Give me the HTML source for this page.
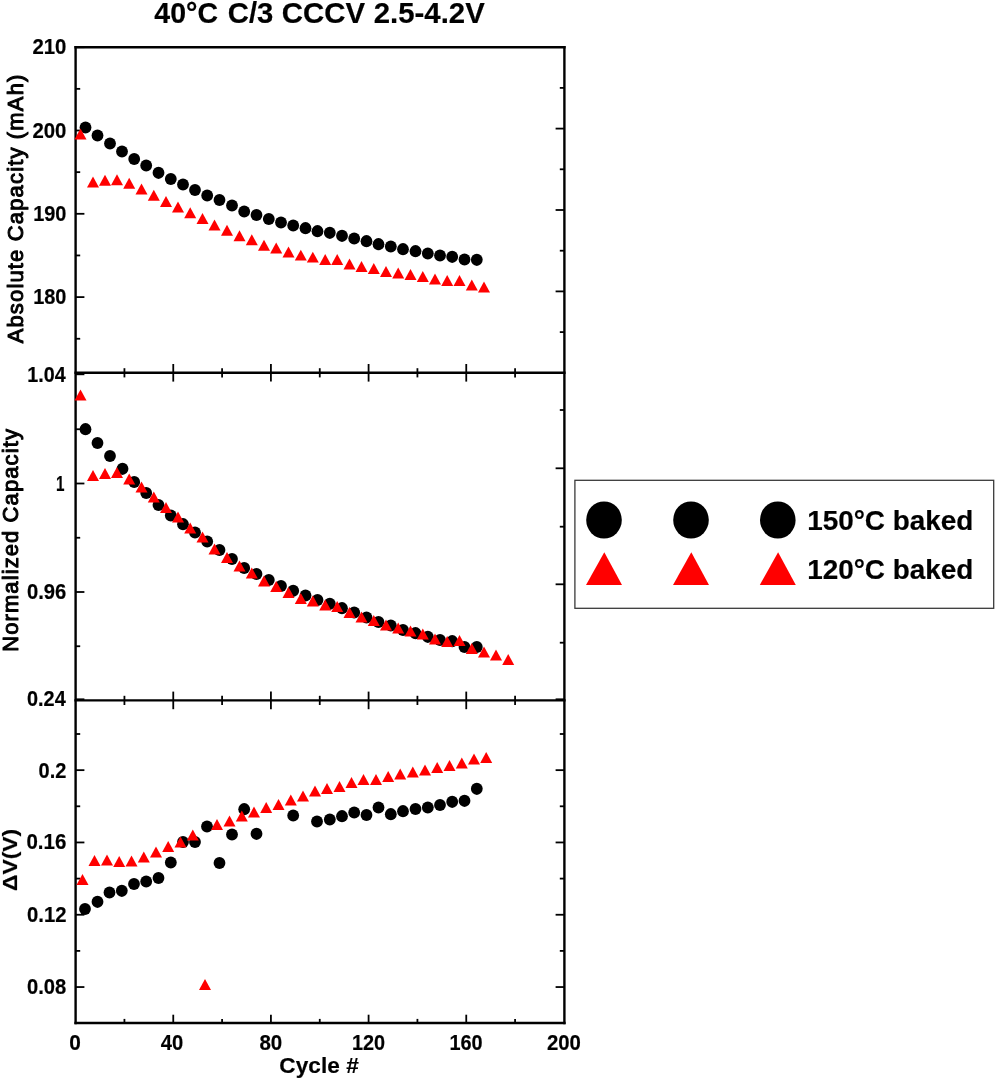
<!DOCTYPE html>
<html lang="en">
<head>
<meta charset="utf-8">
<title>40°C C/3 CCCV 2.5-4.2V</title>
<style>
html,body{margin:0;padding:0;background:#fff;}
body{width:996px;height:1080px;overflow:hidden;}
svg{display:block;}
text{white-space:pre;}
</style>
</head>
<body>
<svg width="996" height="1080" viewBox="0 0 996 1080">
<defs><filter id="soft" x="0" y="0" width="996" height="1080" filterUnits="userSpaceOnUse"><feGaussianBlur stdDeviation="0.55"/></filter></defs>
<rect width="996" height="1080" fill="#fff"/>
<g filter="url(#soft)">
<g stroke="#000" stroke-width="2.4" fill="none" stroke-linecap="square">
<line x1="75.6" y1="47.2" x2="75.6" y2="1023.0"/>
<line x1="564.4" y1="47.2" x2="564.4" y2="1023.0"/>
<line x1="75.6" y1="47.2" x2="564.4" y2="47.2"/>
<line x1="75.6" y1="372.8" x2="564.4" y2="372.8"/>
<line x1="75.6" y1="700.4" x2="564.4" y2="700.4"/>
<line x1="75.6" y1="1023.0" x2="564.4" y2="1023.0"/>
</g>
<g stroke="#000" stroke-width="1.8" fill="none">
<line x1="75.6" y1="88.85" x2="80.20" y2="88.85"/>
<line x1="75.6" y1="130.50" x2="84.40" y2="130.50"/>
<line x1="75.6" y1="172.15" x2="80.20" y2="172.15"/>
<line x1="75.6" y1="213.80" x2="84.40" y2="213.80"/>
<line x1="75.6" y1="255.45" x2="80.20" y2="255.45"/>
<line x1="75.6" y1="297.10" x2="84.40" y2="297.10"/>
<line x1="75.6" y1="338.75" x2="80.20" y2="338.75"/>
<line x1="75.6" y1="47.20" x2="84.40" y2="47.20"/>
<line x1="75.6" y1="429.25" x2="80.20" y2="429.25"/>
<line x1="75.6" y1="483.50" x2="84.40" y2="483.50"/>
<line x1="75.6" y1="537.75" x2="80.20" y2="537.75"/>
<line x1="75.6" y1="592.00" x2="84.40" y2="592.00"/>
<line x1="75.6" y1="646.25" x2="80.20" y2="646.25"/>
<line x1="75.6" y1="374.30" x2="84.40" y2="374.30"/>
<line x1="75.6" y1="734.00" x2="80.20" y2="734.00"/>
<line x1="75.6" y1="770.15" x2="84.40" y2="770.15"/>
<line x1="75.6" y1="806.30" x2="80.20" y2="806.30"/>
<line x1="75.6" y1="842.45" x2="84.40" y2="842.45"/>
<line x1="75.6" y1="878.60" x2="80.20" y2="878.60"/>
<line x1="75.6" y1="914.75" x2="84.40" y2="914.75"/>
<line x1="75.6" y1="950.90" x2="80.20" y2="950.90"/>
<line x1="75.6" y1="987.05" x2="84.40" y2="987.05"/>
<line x1="75.6" y1="699.30" x2="84.40" y2="699.30"/>
<line x1="564.4" y1="87.90" x2="559.80" y2="87.90"/>
<line x1="564.4" y1="128.60" x2="555.60" y2="128.60"/>
<line x1="564.4" y1="169.30" x2="559.80" y2="169.30"/>
<line x1="564.4" y1="210.00" x2="555.60" y2="210.00"/>
<line x1="564.4" y1="250.70" x2="559.80" y2="250.70"/>
<line x1="564.4" y1="291.40" x2="555.60" y2="291.40"/>
<line x1="564.4" y1="332.10" x2="559.80" y2="332.10"/>
<line x1="564.4" y1="410.00" x2="559.80" y2="410.00"/>
<line x1="564.4" y1="468.30" x2="555.60" y2="468.30"/>
<line x1="564.4" y1="526.70" x2="559.80" y2="526.70"/>
<line x1="564.4" y1="584.30" x2="555.60" y2="584.30"/>
<line x1="564.4" y1="642.70" x2="559.80" y2="642.70"/>
<line x1="564.4" y1="699.30" x2="555.60" y2="699.30"/>
<line x1="564.4" y1="734.00" x2="559.80" y2="734.00"/>
<line x1="564.4" y1="770.15" x2="555.60" y2="770.15"/>
<line x1="564.4" y1="806.30" x2="559.80" y2="806.30"/>
<line x1="564.4" y1="842.45" x2="555.60" y2="842.45"/>
<line x1="564.4" y1="878.60" x2="559.80" y2="878.60"/>
<line x1="564.4" y1="914.75" x2="555.60" y2="914.75"/>
<line x1="564.4" y1="950.90" x2="559.80" y2="950.90"/>
<line x1="564.4" y1="987.05" x2="555.60" y2="987.05"/>
<line x1="124.43" y1="368.20" x2="124.43" y2="377.40"/>
<line x1="124.43" y1="695.80" x2="124.43" y2="705.00"/>
<line x1="124.43" y1="1018.90" x2="124.43" y2="1023.00"/>
<line x1="173.26" y1="364.00" x2="173.26" y2="381.60"/>
<line x1="173.26" y1="691.60" x2="173.26" y2="709.20"/>
<line x1="173.26" y1="1014.70" x2="173.26" y2="1023.00"/>
<line x1="222.09" y1="368.20" x2="222.09" y2="377.40"/>
<line x1="222.09" y1="695.80" x2="222.09" y2="705.00"/>
<line x1="222.09" y1="1018.90" x2="222.09" y2="1023.00"/>
<line x1="270.92" y1="364.00" x2="270.92" y2="381.60"/>
<line x1="270.92" y1="691.60" x2="270.92" y2="709.20"/>
<line x1="270.92" y1="1014.70" x2="270.92" y2="1023.00"/>
<line x1="319.76" y1="368.20" x2="319.76" y2="377.40"/>
<line x1="319.76" y1="695.80" x2="319.76" y2="705.00"/>
<line x1="319.76" y1="1018.90" x2="319.76" y2="1023.00"/>
<line x1="368.59" y1="364.00" x2="368.59" y2="381.60"/>
<line x1="368.59" y1="691.60" x2="368.59" y2="709.20"/>
<line x1="368.59" y1="1014.70" x2="368.59" y2="1023.00"/>
<line x1="417.42" y1="368.20" x2="417.42" y2="377.40"/>
<line x1="417.42" y1="695.80" x2="417.42" y2="705.00"/>
<line x1="417.42" y1="1018.90" x2="417.42" y2="1023.00"/>
<line x1="466.25" y1="364.00" x2="466.25" y2="381.60"/>
<line x1="466.25" y1="691.60" x2="466.25" y2="709.20"/>
<line x1="466.25" y1="1014.70" x2="466.25" y2="1023.00"/>
<line x1="515.08" y1="368.20" x2="515.08" y2="377.40"/>
<line x1="515.08" y1="695.80" x2="515.08" y2="705.00"/>
<line x1="515.08" y1="1018.90" x2="515.08" y2="1023.00"/>
</g>
<g fill="#000"><ellipse cx="85.5" cy="127.5" rx="5.9" ry="6.1"/><ellipse cx="97.5" cy="135.5" rx="5.9" ry="6.1"/><ellipse cx="110.0" cy="143.5" rx="5.9" ry="6.1"/><ellipse cx="122.0" cy="151.5" rx="5.9" ry="6.1"/><ellipse cx="134.2" cy="159.0" rx="5.9" ry="6.1"/><ellipse cx="146.2" cy="165.5" rx="5.9" ry="6.1"/><ellipse cx="158.5" cy="172.8" rx="5.9" ry="6.1"/><ellipse cx="170.8" cy="179.0" rx="5.9" ry="6.1"/><ellipse cx="183.0" cy="184.5" rx="5.9" ry="6.1"/><ellipse cx="195.0" cy="190.0" rx="5.9" ry="6.1"/><ellipse cx="207.2" cy="195.5" rx="5.9" ry="6.1"/><ellipse cx="219.5" cy="200.0" rx="5.9" ry="6.1"/><ellipse cx="232.0" cy="205.5" rx="5.9" ry="6.1"/><ellipse cx="244.2" cy="211.5" rx="5.9" ry="6.1"/><ellipse cx="256.5" cy="215.0" rx="5.9" ry="6.1"/><ellipse cx="268.8" cy="219.0" rx="5.9" ry="6.1"/><ellipse cx="281.0" cy="222.5" rx="5.9" ry="6.1"/><ellipse cx="293.2" cy="225.5" rx="5.9" ry="6.1"/><ellipse cx="305.5" cy="228.2" rx="5.9" ry="6.1"/><ellipse cx="317.5" cy="231.2" rx="5.9" ry="6.1"/><ellipse cx="329.8" cy="232.8" rx="5.9" ry="6.1"/><ellipse cx="342.0" cy="235.8" rx="5.9" ry="6.1"/><ellipse cx="354.2" cy="238.5" rx="5.9" ry="6.1"/><ellipse cx="366.5" cy="241.2" rx="5.9" ry="6.1"/><ellipse cx="378.5" cy="244.2" rx="5.9" ry="6.1"/><ellipse cx="390.8" cy="246.5" rx="5.9" ry="6.1"/><ellipse cx="403.0" cy="249.2" rx="5.9" ry="6.1"/><ellipse cx="415.5" cy="251.2" rx="5.9" ry="6.1"/><ellipse cx="427.8" cy="253.5" rx="5.9" ry="6.1"/><ellipse cx="440.0" cy="255.5" rx="5.9" ry="6.1"/><ellipse cx="452.2" cy="256.8" rx="5.9" ry="6.1"/><ellipse cx="464.5" cy="259.5" rx="5.9" ry="6.1"/><ellipse cx="476.8" cy="259.8" rx="5.9" ry="6.1"/></g>
<g fill="#ff0000"><path d="M80.5 128.4L86.5 139.4L74.5 139.4Z"/><path d="M93.0 176.4L99.0 187.4L87.0 187.4Z"/><path d="M105.0 174.7L111.0 185.7L99.0 185.7Z"/><path d="M117.0 174.2L123.0 185.2L111.0 185.2Z"/><path d="M129.2 177.7L135.2 188.7L123.2 188.7Z"/><path d="M141.5 183.4L147.5 194.4L135.5 194.4Z"/><path d="M153.8 189.7L159.8 200.7L147.8 200.7Z"/><path d="M166.0 195.9L172.0 206.9L160.0 206.9Z"/><path d="M178.0 201.4L184.0 212.4L172.0 212.4Z"/><path d="M190.2 207.2L196.2 218.2L184.2 218.2Z"/><path d="M202.5 212.9L208.5 223.9L196.5 223.9Z"/><path d="M214.5 219.4L220.5 230.4L208.5 230.4Z"/><path d="M227.0 224.7L233.0 235.7L221.0 235.7Z"/><path d="M239.5 230.2L245.5 241.2L233.5 241.2Z"/><path d="M251.8 234.2L257.8 245.2L245.8 245.2Z"/><path d="M264.0 239.7L270.0 250.7L258.0 250.7Z"/><path d="M276.2 242.4L282.2 253.4L270.2 253.4Z"/><path d="M288.5 246.4L294.5 257.4L282.5 257.4Z"/><path d="M300.8 249.7L306.8 260.6L294.8 260.6Z"/><path d="M312.8 251.7L318.8 262.6L306.8 262.6Z"/><path d="M325.2 253.9L331.2 264.9L319.2 264.9Z"/><path d="M337.2 253.9L343.2 264.9L331.2 264.9Z"/><path d="M349.5 258.4L355.5 269.4L343.5 269.4Z"/><path d="M361.5 260.9L367.5 271.9L355.5 271.9Z"/><path d="M373.8 262.9L379.8 273.9L367.8 273.9Z"/><path d="M386.0 265.9L392.0 276.9L380.0 276.9Z"/><path d="M398.2 267.4L404.2 278.4L392.2 278.4Z"/><path d="M410.5 269.1L416.5 280.1L404.5 280.1Z"/><path d="M422.8 270.9L428.8 281.9L416.8 281.9Z"/><path d="M435.0 273.4L441.0 284.4L429.0 284.4Z"/><path d="M447.2 275.1L453.2 286.1L441.2 286.1Z"/><path d="M459.5 274.9L465.5 285.9L453.5 285.9Z"/><path d="M471.8 279.6L477.8 290.6L465.8 290.6Z"/><path d="M484.0 281.4L490.0 292.4L478.0 292.4Z"/></g>
<g fill="#000"><ellipse cx="85.5" cy="429.2" rx="5.9" ry="6.1"/><ellipse cx="97.5" cy="443.0" rx="5.9" ry="6.1"/><ellipse cx="110.0" cy="456.0" rx="5.9" ry="6.1"/><ellipse cx="122.5" cy="468.8" rx="5.9" ry="6.1"/><ellipse cx="134.2" cy="482.0" rx="5.9" ry="6.1"/><ellipse cx="146.2" cy="493.0" rx="5.9" ry="6.1"/><ellipse cx="158.5" cy="505.0" rx="5.9" ry="6.1"/><ellipse cx="170.8" cy="515.5" rx="5.9" ry="6.1"/><ellipse cx="183.0" cy="524.2" rx="5.9" ry="6.1"/><ellipse cx="195.0" cy="532.5" rx="5.9" ry="6.1"/><ellipse cx="207.2" cy="541.5" rx="5.9" ry="6.1"/><ellipse cx="219.5" cy="550.0" rx="5.9" ry="6.1"/><ellipse cx="232.0" cy="559.0" rx="5.9" ry="6.1"/><ellipse cx="244.2" cy="568.0" rx="5.9" ry="6.1"/><ellipse cx="256.5" cy="574.0" rx="5.9" ry="6.1"/><ellipse cx="268.8" cy="580.0" rx="5.9" ry="6.1"/><ellipse cx="281.0" cy="586.0" rx="5.9" ry="6.1"/><ellipse cx="293.2" cy="590.8" rx="5.9" ry="6.1"/><ellipse cx="305.5" cy="595.5" rx="5.9" ry="6.1"/><ellipse cx="317.5" cy="600.0" rx="5.9" ry="6.1"/><ellipse cx="329.8" cy="603.8" rx="5.9" ry="6.1"/><ellipse cx="342.0" cy="608.2" rx="5.9" ry="6.1"/><ellipse cx="354.2" cy="612.5" rx="5.9" ry="6.1"/><ellipse cx="366.5" cy="617.5" rx="5.9" ry="6.1"/><ellipse cx="378.5" cy="622.0" rx="5.9" ry="6.1"/><ellipse cx="390.8" cy="625.5" rx="5.9" ry="6.1"/><ellipse cx="403.0" cy="630.0" rx="5.9" ry="6.1"/><ellipse cx="415.5" cy="633.2" rx="5.9" ry="6.1"/><ellipse cx="427.8" cy="636.8" rx="5.9" ry="6.1"/><ellipse cx="440.0" cy="640.0" rx="5.9" ry="6.1"/><ellipse cx="452.2" cy="641.2" rx="5.9" ry="6.1"/><ellipse cx="464.5" cy="647.0" rx="5.9" ry="6.1"/><ellipse cx="476.8" cy="647.0" rx="5.9" ry="6.1"/></g>
<g fill="#ff0000"><path d="M80.5 389.6L86.5 400.6L74.5 400.6Z"/><path d="M93.0 470.1L99.0 481.1L87.0 481.1Z"/><path d="M105.0 467.9L111.0 478.9L99.0 478.9Z"/><path d="M117.0 466.9L123.0 477.9L111.0 477.9Z"/><path d="M129.2 473.4L135.2 484.4L123.2 484.4Z"/><path d="M141.5 481.6L147.5 492.6L135.5 492.6Z"/><path d="M153.8 491.6L159.8 502.6L147.8 502.6Z"/><path d="M166.0 502.1L172.0 513.1L160.0 513.1Z"/><path d="M178.0 511.6L184.0 522.6L172.0 522.6Z"/><path d="M190.2 522.4L196.2 533.4L184.2 533.4Z"/><path d="M202.5 531.6L208.5 542.6L196.5 542.6Z"/><path d="M214.5 543.4L220.5 554.4L208.5 554.4Z"/><path d="M227.0 551.9L233.0 562.9L221.0 562.9Z"/><path d="M239.5 560.4L245.5 571.4L233.5 571.4Z"/><path d="M251.8 567.4L257.8 578.4L245.8 578.4Z"/><path d="M264.0 575.4L270.0 586.4L258.0 586.4Z"/><path d="M276.2 580.9L282.2 591.9L270.2 591.9Z"/><path d="M288.5 587.1L294.5 598.1L282.5 598.1Z"/><path d="M300.8 592.9L306.8 603.9L294.8 603.9Z"/><path d="M312.8 595.4L318.8 606.4L306.8 606.4Z"/><path d="M325.2 599.6L331.2 610.6L319.2 610.6Z"/><path d="M337.2 600.9L343.2 611.9L331.2 611.9Z"/><path d="M349.5 607.1L355.5 618.1L343.5 618.1Z"/><path d="M361.5 611.6L367.5 622.6L355.5 622.6Z"/><path d="M373.8 615.1L379.8 626.1L367.8 626.1Z"/><path d="M386.0 619.6L392.0 630.6L380.0 630.6Z"/><path d="M398.2 622.6L404.2 633.6L392.2 633.6Z"/><path d="M410.5 625.4L416.5 636.4L404.5 636.4Z"/><path d="M422.8 628.4L428.8 639.4L416.8 639.4Z"/><path d="M435.0 633.4L441.0 644.4L429.0 644.4Z"/><path d="M447.2 635.9L453.2 646.9L441.2 646.9Z"/><path d="M459.5 634.9L465.5 645.9L453.5 645.9Z"/><path d="M471.8 642.9L477.8 653.9L465.8 653.9Z"/><path d="M484.0 646.6L490.0 657.6L478.0 657.6Z"/><path d="M496.0 649.6L502.0 660.6L490.0 660.6Z"/><path d="M508.2 654.1L514.2 665.1L502.2 665.1Z"/></g>
<g fill="#000"><ellipse cx="85.0" cy="909.0" rx="5.9" ry="6.1"/><ellipse cx="97.5" cy="901.8" rx="5.9" ry="6.1"/><ellipse cx="109.5" cy="892.5" rx="5.9" ry="6.1"/><ellipse cx="121.8" cy="890.8" rx="5.9" ry="6.1"/><ellipse cx="134.0" cy="884.0" rx="5.9" ry="6.1"/><ellipse cx="146.2" cy="881.5" rx="5.9" ry="6.1"/><ellipse cx="158.5" cy="878.0" rx="5.9" ry="6.1"/><ellipse cx="170.8" cy="862.5" rx="5.9" ry="6.1"/><ellipse cx="183.0" cy="842.0" rx="5.9" ry="6.1"/><ellipse cx="195.0" cy="842.0" rx="5.9" ry="6.1"/><ellipse cx="207.0" cy="826.5" rx="5.9" ry="6.1"/><ellipse cx="219.5" cy="863.0" rx="5.9" ry="6.1"/><ellipse cx="232.0" cy="834.5" rx="5.9" ry="6.1"/><ellipse cx="244.2" cy="809.2" rx="5.9" ry="6.1"/><ellipse cx="256.5" cy="833.8" rx="5.9" ry="6.1"/><ellipse cx="293.2" cy="815.5" rx="5.9" ry="6.1"/><ellipse cx="317.0" cy="821.5" rx="5.9" ry="6.1"/><ellipse cx="329.8" cy="819.5" rx="5.9" ry="6.1"/><ellipse cx="342.0" cy="816.2" rx="5.9" ry="6.1"/><ellipse cx="354.2" cy="812.5" rx="5.9" ry="6.1"/><ellipse cx="366.5" cy="815.0" rx="5.9" ry="6.1"/><ellipse cx="378.5" cy="807.5" rx="5.9" ry="6.1"/><ellipse cx="390.8" cy="814.2" rx="5.9" ry="6.1"/><ellipse cx="403.0" cy="811.2" rx="5.9" ry="6.1"/><ellipse cx="415.5" cy="809.0" rx="5.9" ry="6.1"/><ellipse cx="427.8" cy="807.5" rx="5.9" ry="6.1"/><ellipse cx="440.0" cy="805.0" rx="5.9" ry="6.1"/><ellipse cx="452.2" cy="801.8" rx="5.9" ry="6.1"/><ellipse cx="464.5" cy="800.8" rx="5.9" ry="6.1"/><ellipse cx="476.8" cy="788.8" rx="5.9" ry="6.1"/></g>
<g fill="#ff0000"><path d="M82.5 873.9L88.5 884.9L76.5 884.9Z"/><path d="M94.5 855.1L100.5 866.1L88.5 866.1Z"/><path d="M107.0 854.6L113.0 865.6L101.0 865.6Z"/><path d="M119.2 856.1L125.2 867.1L113.2 867.1Z"/><path d="M131.5 855.4L137.5 866.4L125.5 866.4Z"/><path d="M143.8 851.4L149.8 862.4L137.8 862.4Z"/><path d="M156.0 846.4L162.0 857.4L150.0 857.4Z"/><path d="M168.2 840.9L174.2 851.9L162.2 851.9Z"/><path d="M180.5 836.4L186.5 847.4L174.5 847.4Z"/><path d="M192.8 829.6L198.8 840.6L186.8 840.6Z"/><path d="M205.0 978.9L211.0 989.9L199.0 989.9Z"/><path d="M217.0 818.9L223.0 829.9L211.0 829.9Z"/><path d="M229.5 815.4L235.5 826.4L223.5 826.4Z"/><path d="M241.8 810.4L247.8 821.4L235.8 821.4Z"/><path d="M254.0 806.6L260.0 817.6L248.0 817.6Z"/><path d="M266.2 802.1L272.2 813.1L260.2 813.1Z"/><path d="M278.5 798.9L284.5 809.9L272.5 809.9Z"/><path d="M290.8 794.6L296.8 805.6L284.8 805.6Z"/><path d="M303.0 790.4L309.0 801.4L297.0 801.4Z"/><path d="M315.0 785.4L321.0 796.4L309.0 796.4Z"/><path d="M327.0 782.9L333.0 793.9L321.0 793.9Z"/><path d="M339.5 780.9L345.5 791.9L333.5 791.9Z"/><path d="M351.5 777.1L357.5 788.1L345.5 788.1Z"/><path d="M363.5 773.9L369.5 784.9L357.5 784.9Z"/><path d="M376.0 773.9L382.0 784.9L370.0 784.9Z"/><path d="M388.2 770.9L394.2 781.9L382.2 781.9Z"/><path d="M400.2 768.4L406.2 779.4L394.2 779.4Z"/><path d="M412.8 766.6L418.8 777.6L406.8 777.6Z"/><path d="M425.0 764.4L431.0 775.4L419.0 775.4Z"/><path d="M437.2 761.9L443.2 772.9L431.2 772.9Z"/><path d="M449.5 760.1L455.5 771.1L443.5 771.1Z"/><path d="M461.8 757.4L467.8 768.4L455.8 768.4Z"/><path d="M474.0 753.4L480.0 764.4L468.0 764.4Z"/><path d="M486.2 751.9L492.2 762.9L480.2 762.9Z"/></g>
<g font-family="'Liberation Sans', Arial, Helvetica, sans-serif" font-weight="bold" fill="#000" stroke="#000" stroke-width="0.2" stroke-linejoin="round">
<text y="22.9" font-size="29.5"><tspan x="154.37" textLength="63.70" lengthAdjust="spacingAndGlyphs">40°C</tspan> <tspan x="227.83" textLength="45.53" lengthAdjust="spacingAndGlyphs">C/3</tspan> <tspan x="281.82" textLength="83.35" lengthAdjust="spacingAndGlyphs">CCCV</tspan> <tspan x="373.77" textLength="110.96" lengthAdjust="spacingAndGlyphs">2.5-4.2V</tspan></text>
<text x="32.49" y="54.10" font-size="21.5" textLength="33.95" lengthAdjust="spacingAndGlyphs">210</text>
<text x="32.49" y="137.50" font-size="21.5" textLength="33.95" lengthAdjust="spacingAndGlyphs">200</text>
<text x="33.15" y="220.90" font-size="21.5" textLength="33.26" lengthAdjust="spacingAndGlyphs">190</text>
<text x="33.15" y="304.40" font-size="21.5" textLength="33.26" lengthAdjust="spacingAndGlyphs">180</text>
<text x="27.37" y="381.50" font-size="21.5" textLength="38.36" lengthAdjust="spacingAndGlyphs">1.04</text>
<text x="55.95" y="490.70" font-size="21.5" textLength="8.49" lengthAdjust="spacingAndGlyphs">1</text>
<text x="26.99" y="599.20" font-size="21.5" textLength="39.34" lengthAdjust="spacingAndGlyphs">0.96</text>
<text x="27.00" y="705.90" font-size="21.5" textLength="38.72" lengthAdjust="spacingAndGlyphs">0.24</text>
<text x="38.60" y="777.60" font-size="21.5" textLength="27.80" lengthAdjust="spacingAndGlyphs">0.2</text>
<text x="26.48" y="849.20" font-size="21.5" textLength="39.86" lengthAdjust="spacingAndGlyphs">0.16</text>
<text x="26.99" y="921.90" font-size="21.5" textLength="39.45" lengthAdjust="spacingAndGlyphs">0.12</text>
<text x="26.99" y="994.20" font-size="21.5" textLength="39.24" lengthAdjust="spacingAndGlyphs">0.08</text>
<text x="69.37" y="1049.8" font-size="22.6" textLength="11.59" lengthAdjust="spacingAndGlyphs">0</text>
<text x="160.70" y="1049.8" font-size="22.6" textLength="22.46" lengthAdjust="spacingAndGlyphs">40</text>
<text x="259.43" y="1049.8" font-size="22.6" textLength="22.84" lengthAdjust="spacingAndGlyphs">80</text>
<text x="351.96" y="1049.8" font-size="22.6" textLength="33.16" lengthAdjust="spacingAndGlyphs">120</text>
<text x="449.46" y="1049.8" font-size="22.6" textLength="33.16" lengthAdjust="spacingAndGlyphs">160</text>
<text x="546.99" y="1049.8" font-size="22.6" textLength="33.95" lengthAdjust="spacingAndGlyphs">200</text>
<text x="279.30" y="1073.4" font-size="22.6" letter-spacing="0.048">Cycle #</text>
<text transform="translate(22.8 0) rotate(-90)" x="-343.36" y="0" font-size="22" letter-spacing="1.155" font-weight="normal" stroke-width="1.0">Absolute Capacity (mAh)</text>
<text transform="translate(17.8 0) rotate(-90)" x="-651.82" y="0" font-size="22" letter-spacing="1.096" font-weight="normal" stroke-width="1.0">Normalized Capacity</text>
<text transform="translate(17.4 0) rotate(-90)" x="-890.91" y="0" font-size="20.5" textLength="62.08" lengthAdjust="spacingAndGlyphs">ΔV(V)</text>
<text x="807.16" y="530.2" font-size="28" textLength="166.19" lengthAdjust="spacingAndGlyphs">150°C baked</text>
<text x="807.16" y="578.9" font-size="28" textLength="166.19" lengthAdjust="spacingAndGlyphs">120°C baked</text>
</g>
<rect x="574.9" y="480.3" width="418.8" height="128" fill="none" stroke="#3a3a3a" stroke-width="1.3"/>
<ellipse cx="604" cy="520" rx="17.8" ry="18.6" fill="#000"/>
<path d="M604.3 552.3L622.0 585L586.0 585Z" fill="#ff0000"/>
<ellipse cx="691" cy="520" rx="17.8" ry="18.6" fill="#000"/>
<path d="M691.3 552.3L709.0 585L673.0 585Z" fill="#ff0000"/>
<ellipse cx="777.8" cy="520" rx="17.8" ry="18.6" fill="#000"/>
<path d="M778.1 552.3L795.8 585L759.8 585Z" fill="#ff0000"/>
</g>
</svg>
</body>
</html>
